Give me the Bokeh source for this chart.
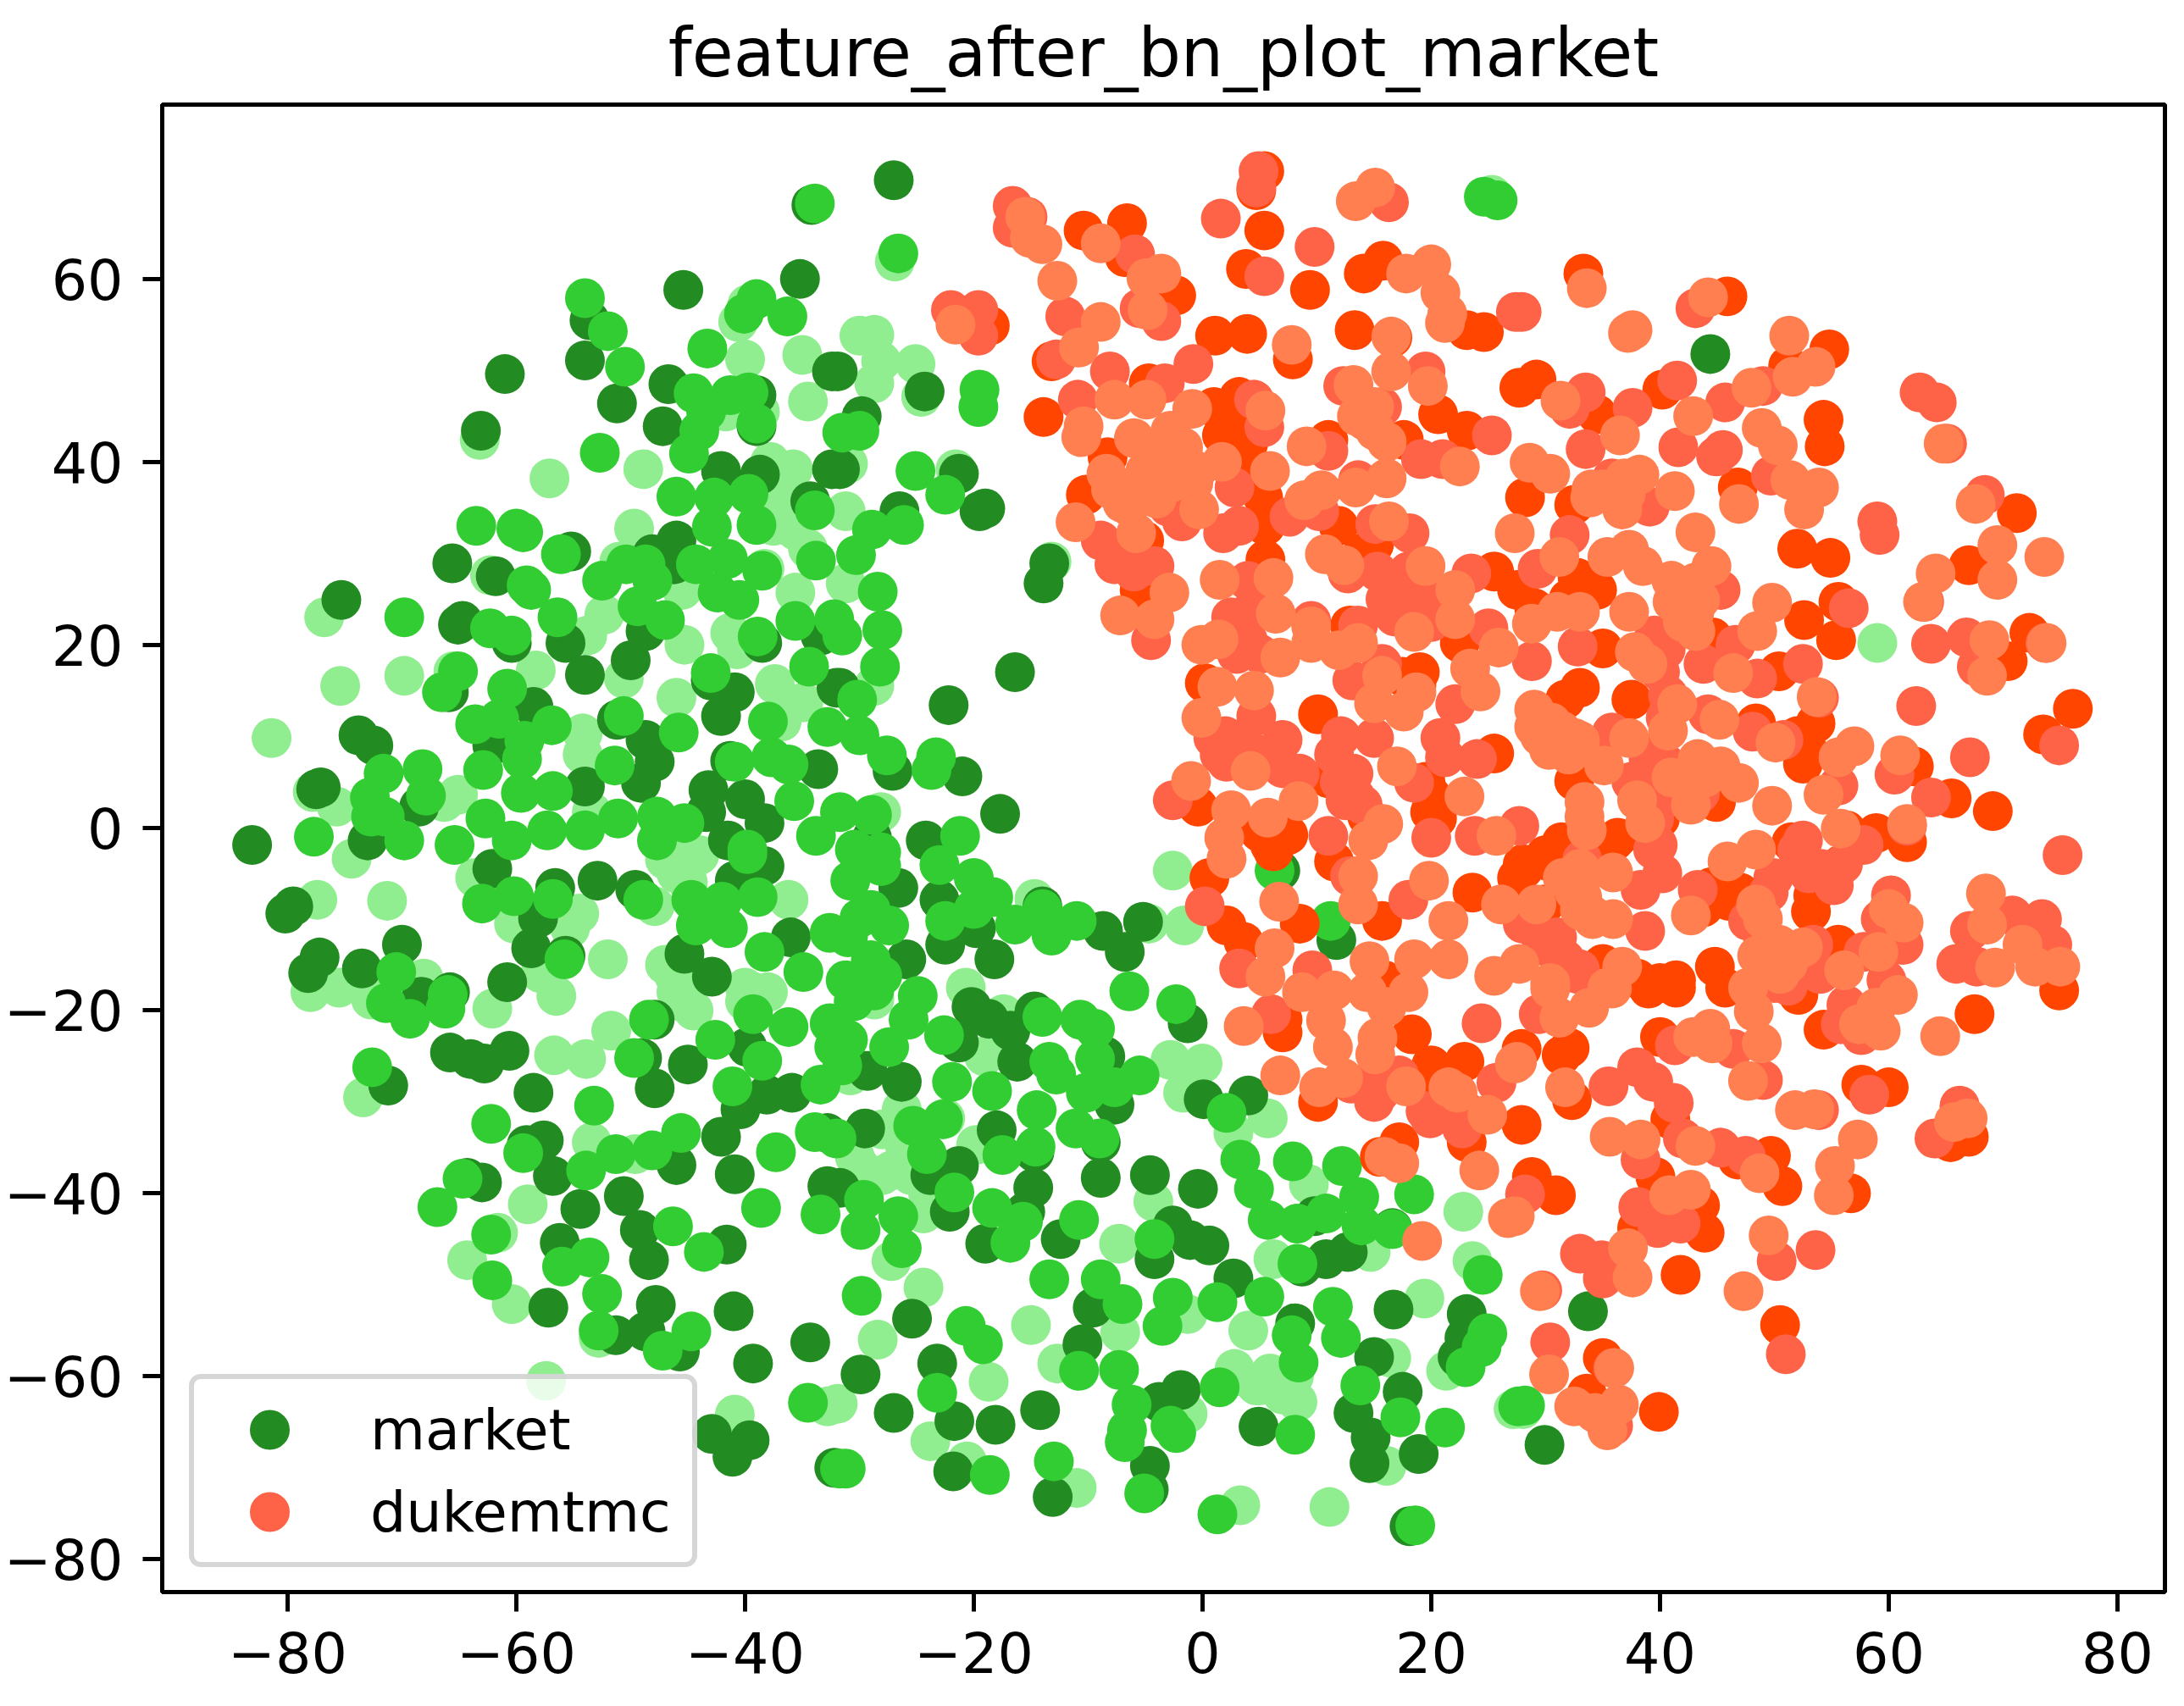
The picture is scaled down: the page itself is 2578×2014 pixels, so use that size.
from bokeh.plotting import figure
from bokeh.models import Legend, LegendItem, FixedTicker, ColumnDataSource
from bokeh.embed import file_html
from bokeh.resources import INLINE

TITLE = "feature_after_bn_plot_market"
LABELS = ["market", "dukemtmc"]
X_TICKS = [-80, -60, -40, -20, 0, 20, 40, 60, 80]
Y_TICKS = [-80, -60, -40, -20, 0, 20, 40, 60]

lightgreen_pts = [
(-40,51.2),(-40.6,55.3),(-39.8,57.2),(-35,51.7),(-34.5,46.6),(-38.7,45.5),(-41.7,45.5),(-63.2,42.4),(-57.1,38.2),(-48.9,39.2),
(-37.8,40),(-35.8,39.2),(-36.8,35.6),(-35.6,32.5),(-49.7,32.7),(-62.3,27.6),(-51,29.1),(-38.3,28.3),(-35.6,25.7),(-45.5,26),
(-52.3,23.3),(-53.8,21),(-41.3,21.3),(-40.7,19.5),(-45.3,20),(-50.6,16.3),(-58.3,17.2),(-69.8,16.6),(-75.4,15.5),(-65.5,17.1),
(-46,14.2),(-37.4,15.7),(-34.9,13.7),(-36.8,11.6),(-81.4,9.8),(-54.2,10.3),(-54.2,8),(-77.8,3.9),(-75.7,2.3),(-65.1,3.6),
(-66.3,2.8),(-53.4,1.7),(-76.8,23),(-74.4,-3.4),(-77.4,-7.9),(-71.3,-8),(-63.6,-5.5),(-54.5,-9.4),(-55.3,-11),(-60.2,-10.5),
(-52,-14.4),(-57.9,-15.9),(-78,-18),(-75.5,-17.5),(-68.1,-16.5),(-72.7,-18.8),(-62.1,-19.8),(-56.5,-18.4),(-56.7,-24.9),(-53.9,-25.3),
(-51.7,-22.2),(-47.9,-8.6),(-36.2,-7.9),(-46.2,-16.2),(-45.1,-19.3),(-39.2,-18),(-73.4,-29.5),(-53.4,-34.4),(-49.6,-35.7),(-59,-41.2),
(-61.6,-44.3),(-64.3,-47.3),(-60.4,-52.1),(-52.8,-55.8),(-32.8,-63.3),(-57.4,-60.5),(-40.9,-64.2),(-45.1,-3.4),
(-26.9,61.9),(25.3,69.2),(-30,53.8),(-28.7,53.9),(-28.1,51),(-25.1,50.7),(-28.7,48.6),(-24.6,47.1),(-21.6,39.2),(-31,39.8),
(-31.2,34.6),(-13.2,29.1),(-31.2,26.7),(-28.7,15.5),(-28.1,1.7),(-14.7,-7.8),(-4.7,-10.5),(-1.6,-10.7),(-2.6,-4.7),(-28.7,-18.8),
(-20.7,-17.5),(-17.4,-20.4),(-19.1,-25),(-30.8,-27.1),(-2.8,-25.4),(0,-25.8),(-1.7,-29),(5.7,-31.8),(2.7,-33.4),(-26.3,-30.8),
(-22.5,-31.8),(-30.4,-36),(-27.2,-37.5),(-19.8,-34.7),(9.3,-39),(22.8,-42),(-24.4,-42.2),(-4.3,-40.9),(-7.3,-45.5),(6.2,-47.2),
(14.7,-46.4),(-27.2,-47.4),(-1.3,-53.2),(-24.4,-50.3),(-15,-54.4),(-28.4,-56),(-18.7,-60.6),(-31.9,-63),(-7.2,-55.2),(-12.7,-58.6),
(4,-55),(19.4,-51.5),(23.6,-47.4),(21.3,-59.4),(16.5,-58),(2.8,-59.2),(5.9,-59.7),(4.7,-61),(8.3,-62.8),(-1.3,-64.1),
(-23.8,-67.1),(-20.6,-69.3),(-11,-72.2),(3.3,-74.1),(11.1,-74.3),(16.1,-69.8),(27.2,-63.6),(28,-63.6),(59,20.2),
(-37,37),(-36,33),(-37.5,33),(-34.5,30.5),(-28,-33),(-26,-35),(-28,-38),(-25.5,-38),(-24,-40),(-30,-37),
(-47,-15),(-46,-18),(-44.5,-20),(-45,-17),(-47,-3.5),(-44,-3),(-46,-5),(-45,-6),(-40,-17.5),(-38,-18),(-40,-19),
(3,-60),(5,-61),(8,-60),(7,-62),
]

forestgreen_pts = [
(-34.2,68.1),(-45.4,58.8),(-35.2,60),(-53.6,55.5),(-54,51.1),(-61,49.6),(-51.2,46.4),(-32.4,49.9),(-46.7,48.5),(-47.2,43.9),
(-39,47.3),(-39,43.9),(-63.1,43.4),(-42.1,39),(-38.7,38.6),(-32.4,39.2),(-34.3,35.7),(-55.2,30.2),(-46,31.4),(-48.1,29.9),
(-65.6,28.9),(-61.8,27.5),(-46.2,28.8),(-55.7,20.2),(-65.1,22.2),(-64.7,22.6),(-60.4,20.2),(-75.3,24.9),(-38.5,20.2),(-33.4,21),
(-48.7,21.5),(-50,18.3),(-54,16.7),(-65.9,14.8),(-58.5,13.2),(-43,16.1),(-40.9,14.8),(-42.1,12.2),(-32,15.3),(-73.8,10.1),
(-72.5,9),(-62.1,9),(-51.2,11.8),(-48.7,9.6),(-47.9,7.2),(-49.1,4.9),(-41.3,7.3),(-33.6,6.4),(-43.2,4.1),(-40,3.1),
(-38.3,.5),(-43.4,1.7),(-77.1,4.4),(-77.5,4.2),(-68.5,2.3),(-54,4.5),(-83.1,-1.9),(-73,-1.4),(-41.5,-1.4),
(-80.2,-9.4),(-79.5,-8.6),(-62.1,-4.5),(-58.1,-9.9),(-56.6,-6.6),(-52.9,-5.8),(-58.7,-13.2),(-55.7,-14),(-70,-12.8),(-77.2,-14.2),
(-78.2,-15.9),(-73.5,-15.4),(-68.3,-18.5),(-65.8,-18),(-60.8,-16.9),(-65.8,-24.6),(-64,-25.3),(-62.8,-25.8),(-60.6,-24.4),(-49,-25.2),
(-47.9,-21),(-47.9,-28.5),(-45,-25.9),(-71.2,-28.2),(-58.5,-29),(-57.6,-34.2),(-59.1,-34.7),(-46,-36.9),(-42.1,-33.8),(-56.8,-38.1),
(-40.9,-37.9),(-63,-38.8),(-64.3,-38.3),(-54.4,-41.7),(-50.6,-40.3),(-49.2,-44),(-56.2,-45.4),(-48.4,-47.3),(-41.6,-45.6),(-57.2,-52.5),
(-47.8,-52.2),(-41,-52.9),(-51.3,-55.5),(-48.7,-55.1),(-45.7,-57.3),(-34.3,-56.3),(-39.3,-58.6),(-42.9,-66.3),(-39.6,-67),(-41.1,-68.8),
(-32.2,-70),(-49.6,-6.8),(-45.3,-13.8),(-36,-12),(-42.9,-16.3),(-39.8,-24),(-40.4,-30.8),(-38.1,-29.2),(-35.9,-29),(-32.8,-33.4),
(-32.8,-39.2),(-38.3,-4.2),(-40.9,-5.8),
(-27,70.8),(-31.9,49.9),(-24.3,47.7),(-29.8,45),(-21.3,38.7),(-19,34.9),(-19.5,34.6),(-26.5,34.6),(-31.7,39.2),(-13.4,28.9),
(-13.9,26.7),(-16.4,17),(-22.2,13.4),(-31.7,15.3),(-27.1,6.2),(-21,5.6),(-17.7,1.5),(-24.2,-1.4),(-28.9,-1.1),
(-26.6,-6.6),(-23,-7.9),(-19.8,-11),(-22.5,-12.8),(-18.2,-14.4),(-14,-8.6),(-8.7,-11.3),(-6.8,-13.6),(-5.2,-10.3),(-25.9,-14.4),
(-20.2,-19.6),(-18.7,-20.9),(-21.3,-23.5),(-16.8,-22.2),(-14.7,-20.1),(-1.3,-21.4),(-16.2,-25.6),(-8.5,-25),(-7.7,-30.3),(-29.3,-26.6),
(-26.3,-27.8),(.1,-29.7),(4,-29.3),(-29.5,-32.9),(-21.3,-37),(-23.8,-38),(-18,-33.1),(-14.7,-35.5),(-8.9,-34.4),(-8.9,-38.3),
(-4.6,-38),(-.4,-39.5),(-14.8,-39.4),(-22.1,-42),(-31.7,-39.4),(-15.5,-42),(-19,-45.5),(-12.4,-45),(-2.6,-43.5),(-1.1,-45.1),
(.6,-45.7),(-4.2,-47.2),(9.8,-42.5),(16.6,-43.8),(12.7,-46.4),(10.8,-47.2),(8.7,-48),(2.7,-49.3),(-9.6,-52.5),(-25.4,-53.7),
(-23.2,-58.6),(-29.9,-59.8),(-27,-64),(-21.7,-64.9),(-18.1,-65.3),(-14.2,-63.7),(-10.5,-56.5),(8.1,-54.2),(16.7,-52.7),(23.1,-53.2),
(22.9,-55.8),(22.3,-57.9),(15,-57.9),(17.5,-61.7),(13.2,-64),(14.7,-66.7),(18.9,-68.5),(14.6,-69.5),(4.9,-65.5),(-1.9,-61.5),
(-3.8,-62.8),(-4.6,-69.8),(-4.7,-72.4),(-21.8,-70.4),(-13.1,-73.2),(18.1,-76.4),(11.7,-12.3),(6.8,-4.7),(44.4,51.8),(33.7,-52.9),
(29.9,-67.5),
]

limegreen_pts = [
(-33.9,68.25),(-54,57.9),(-52,54.3),(-50.5,50.4),(-43.3,52.4),(-39,57.8),(-40.1,56.2),(-36.3,55.9),(-44.5,47.5),(-43.4,45.5),
(-44,43.4),(-44.9,40.9),(-41.3,47.3),(-39.7,47.6),(-39,44.2),(-52.7,41),(-46,36.2),(-42.7,36.1),(-39.7,36.5),(-33.9,34.7),
(-63.5,33),(-60,32.7),(-59.4,32.3),(-56.1,29.9),(-42.9,32.9),(-39,33.1),(-59.1,26.5),(-58.7,26),(-52.5,27),(-50.4,28.8),
(-48.7,28.8),(-48.1,27),(-44.3,28.8),(-41.5,29.4),(-38.5,28.1),(-33.8,29.2),(-42.4,25.7),(-40.5,24.9),(-49.4,24.2),(-47,22.7),
(-56.4,23),(-62.3,21.8),(-60.4,21),(-69.8,23),(-38.9,20.9),(-35.6,22.6),(-32.2,22.8),(-34.4,17.6),(-65.1,17.1),(-66.5,14.8),
(-60.8,15.2),(-43,16.9),(-38,11.6),(-32.8,11),(-63.6,11.3),(-61.5,11.9),(-56.9,11.2),(-59.3,9.5),(-50.6,12.2),(-45.8,10.4),
(-51.4,6.8),(-40.9,7.2),(-37.7,7.7),(-36.2,6.9),(-35.7,2.9),(-71.6,5.9),(-68.2,6.4),(-72.8,3.3),(-67.9,3.5),(-72.7,1.2),
(-71.5,1.2),(-62.9,6.3),(-59.5,7.5),(-59.6,3.8),(-56.8,4),(-62.7,1),(-60.4,-1.4),(-57.3,-.3),(-54,-.3),(-51.1,1),
(-47.7,1.2),(-45.3,.5),(-77.7,-1),(-69.8,-1.4),(-65.4,-1.9),(-39.8,-2.4),(-33.8,-.9),(-47.7,-1.4),
(-63,-8.3),(-60.2,-7.5),(-56.8,-7.8),(-55.8,-14.4),(-70.5,-15.8),(-71.4,-19.2),(-69.3,-20.9),(-66,-18.3),(-66.2,-19.8),(-49.7,-25.2),
(-48.4,-21),(-72.6,-26.2),(-53.2,-30.4),(-62.2,-32.4),(-59.4,-35.6),(-51.3,-35.7),(-48.1,-35.3),(-45.6,-33.4),(-53.9,-37.5),(-37.3,-35.5),
(-64.7,-38.4),(-66.9,-41.5),(-46.3,-43.6),(-38.6,-41.6),(-62.2,-44.5),(-62.1,-49.5),(-53.6,-47),(-56,-48),(-43.6,-46.4),(-52.5,-51),
(-52.8,-55),(-44.7,-55.1),(-47.2,-57.2),(-34.5,-62.9),(-31.7,-70.1),(-48.9,-7.9),(-44.7,-7.9),(-42,-8.1),(-44.3,-10.7),(-41.5,-11),
(-38.9,-7.6),(-38.3,-13.6),(-34.9,-15.8),(-39.3,-20.4),(-36.2,-21.8),(-42.6,-23.2),(-38.5,-25.5),(-41.1,-28.3),(-33.4,-28.1),(-33.9,-33.3),
(-33.4,-42.3),(-32.6,-11.5),(-32.6,-21.4),(-32.2,-24),(-39.8,-2.9),
(-26.6,62.8),(24.6,69),(25.8,68.6),(-19.5,47.9),(-19.6,46),(-30,43.4),(-31.5,43.2),(-25.1,39),(-22.5,36.4),(-26.1,33.1),
(-28.9,32.6),(-30.3,29.8),(-28.4,25.8),(-28,21.6),(-31.5,21),(-28.2,17.6),(-30.2,14),(-30,10.1),(-27.6,7.9),(-23.3,7.7),
(-23.7,6.3),(-28.9,1.4),(-31.7,1.7),(-21.2,-.9),(-28.1,-2.7),(-30.4,-2.4),
(-28.1,-4.2),(-30.8,-5.8),(-23,-4.1),(-20,-5.5),(-18.3,-7.6),(-22.5,-10.2),(-20,-8.9),(-16.4,-10.6),(-14,-8.9),(-13.2,-11.8),
(-11,-10.2),(-30,-9.9),(-27.4,-10.7),(-28,-16.2),(-28.7,-17.8),(-31.2,-16.7),(-24.9,-18.4),(-25.7,-21),(-22.6,-22.7),(-14,-20.7),
(-10.7,-21),(-9.4,-22),(-27.4,-24),(-31,-23.2),(-6.4,-17.9),(-2.3,-19.3),(-13.4,-25.6),(-9.4,-25.3),(-12.8,-27),(-5.5,-27.1),
(-7.7,-28.4),(-10.2,-29),(-21.9,-27.8),(-18.4,-28.8),(2.1,-31.2),(-25.3,-32.6),(-22.7,-31.9),(-24.1,-35.7),(-14.5,-30.9),(-17.5,-35.8),
(-14.6,-34.9),(-11.1,-32.9),(-9,-34),(3.3,-36.3),(7.9,-36.5),(12.2,-37),(4.5,-39.5),(13.7,-40.4),(18.5,-40.1),(-21.7,-39.9),
(-29.6,-40.7),(-26.6,-42.5),(-29.9,-44),(-26.3,-46),(-18.4,-41.6),(-15.7,-43.1),(-16.8,-45.4),(-10.8,-42.9),(-4.2,-45),(5.7,-42.9),
(8.3,-43.3),(10.8,-42.2),(13.9,-43.5),(16.6,-43.9),(8.3,-47.7),(-13.4,-49.4),(-8.9,-49.4),(5.4,-51.3),(1.3,-51.9),(-2.6,-51.4),
(-7,-52.1),(-3.5,-54.5),(-29.8,-51.2),(-20.7,-54.5),(-19.2,-56.5),(-23.2,-61.8),(-10.8,-59.4),(-7.3,-59.3),(7.8,-55.5),(8.4,-58.5),
(11.4,-52.4),(12.1,-55.8),(24.5,-48.9),(24.9,-55.3),(24.4,-56.8),(23,-59),(13.8,-61),(17.3,-64.5),(21.2,-65.6),(1.5,-61.2),
(8.1,-66.4),(-6.2,-63.1),(-6.6,-65.9),(-6.8,-67.2),(-2.8,-65.4),(-2.3,-66.2),(-5.1,-72.8),(-18.6,-70.8),(-13,-69.3),(-31.2,-70.1),
(1.3,-75.1),(18.6,-76.3),(27.6,-63.3),(11.2,-10.2),(6.3,-4.7),(28.2,-63.2),
(-29,-9),(-31,-12),(-29,-14.5),(-30.5,-19),(-31.5,-26),(-32,-34),
]

orangered_pts = [
(5.4,71.8),(4.7,69.7),(5.4,65.3),(3.8,61.1),(9.4,58.8),(14.1,60.6),(15.8,62),(23.1,54.4),(24.6,54.2),(-10.4,65.3),
(-6.6,66.1),(-6.8,62.4),(-2.3,58.2),(-18.6,54.9),(-13.2,51),(1.1,53.8),(3.9,54),(7.9,51.2),(13.3,54.4),(16.6,53.6),
(-4.7,48.6),(-13.9,44.9),(3.2,47.1),(2.3,45),(1.7,42.9),(-8.3,40.5),(-10.2,36.4),(5.3,36.1),(-5.1,31.4),(5.5,29.3),
(-5.5,26),(11,42.4),(17.6,42.4),(20.6,45.2),(23.1,43.4),(11.9,33),(25.5,28),(12.9,22.1),(22.5,20.2),(.2,15.8),
(18.7,15.6),(10.1,12.4),(25.5,8.1),(11,5.4),(19.9,1.7),(-.4,2.3),(6.6,-.3),(14.4,1.2),(5.9,-1.9),
(6.2,-2.6),(.6,-5.5),(8.5,-10.5),(2.1,-10.7),(3.6,-12.5),(7,-22.4),(10.1,-30),(11.5,-3.7),(15.7,-10.2),(23.6,-7.1),
(15.9,-16.7),(18.3,-22.6),(20.2,-27.7),(22.9,-25.6),(23.1,-34.4),(17.2,-34.4),(15.5,-36),
(33.3,60.6),(45.9,58.1),(54.8,52.3),(51.2,50.5),(29.2,49),(27.7,48.1),(34.5,45.2),(40.2,47.9),(54.3,44.6),(54.4,41.7),
(46.8,37.2),(28.2,36.1),(32.5,35.3),(32.8,27.3),(33.2,26),(52,30.5),(54.9,29.5),(71.2,34.4),(67,28.7),(55.6,24.7),
(52.6,22.7),(55.4,20.5),(72.3,21.3),(70.4,18.2),(35,19.6),(44.6,20.8),(50.4,17.1),(33,15.3),(37.5,14),(31.7,14),
(76.1,13),(73.5,10.2),(53.6,11.4),(53,8.3),(62.2,6.7),(65.5,3.2),(69.1,1.8),(48.4,11.4),(32.5,5.1),(44.9,2.8),
(40,1),(31.4,-1.6),(36.3,-1.1),(51.5,-1.6),(56.3,-.3),(58.9,-.6),(61.6,-1.6),(28.1,-4.5),(30.3,-3.7),(47,-7.1),
(55.9,-4),(53.4,-7.4),(53.2,-9.2),(29.9,-8.4),(43.8,-8.7),(55.6,-12.8),(44.8,-15.2),(41.4,-16.7),(38.9,-17.3),(45.7,-17.5),
(35,-14.9),(74.9,-17.8),(67.5,-20.4),(54.3,-22.1),(40,-22.9),(32.1,-24.1),(31.4,-24.9),(27.9,-24.2),(32.3,-29.8),(27.9,-32.5),
(57.6,-28.1),(60,-28.4),(56.7,-40),(66.2,-30.5),(65.4,-34.4),(67,-33.8),(39.6,-38.2),(40.9,-31.9),(49.7,-35.9),(46.8,-36.3),
(50.7,-39.2),(28.8,-38.2),(30.9,-40.2),(43.5,-41.3),(43.9,-44.3),(38,-43.8),(41.8,-48.9),(50.5,-54.4),(35,-58),(33.6,-61.9),
(39.9,-63.9),(39,-17.6),(41.4,-17.5),(52.1,-18.3),
(1,46),(3,43.5),(4,42),(2.5,41),(3.5,39),(27.5,26),(29,24),(32,25),(34.5,26),(52,10),(52.5,7),(46,-8),(44.5,-6.5),
(28,-4),(27.5,-5.5),(30,-3),(31,-3),(35,-2.5),(36,-1.5),(38,-16.5),(40,-17),(5.5,33),(5.5,34.5),(15,31),(14,30),
(17.5,16.5),(19,17),(19.5,5),(20,3.5),(20.5,1),(5,-.5),(7.5,-.8),(7,-21),(20,-26),
]

tomato_pts = [
(4.9,71.8),(4.7,70),(1.6,66.6),(9.8,63.5),(5.4,60.3),(16.3,68.4),(27.4,56.4),(-16.6,68),(-15.3,66.8),(-16.6,65.6),
(-5.9,62.7),(-5.5,56.8),(-3.6,55.4),(-22,56.6),(-19.6,56.6),(-19.6,53.8),(-12,55.9),(-12.8,51.2),(19.5,49.9),(12.3,48.3),
(-8.1,49.9),(-.8,50.7),(-3.3,48.6),(-10.9,46.8),(4.5,46.8),(5.4,43.8),(2.8,37.2),(-3,35.1),(-1.8,33.5),(3.2,33),
(1.8,32.2),(-8.9,31.4),(-7.7,28.8),(-4.2,28.6),(3.97,27),(-4.5,20.5),(11,41.2),(15.7,46),(25.3,42.9),(19.1,40.3),
(21,40.3),(13.6,38),(7.6,34),(10.2,34.6),(15.1,33.2),(18.1,32.2),(12.7,27.8),(15.3,28),(17.2,26.2),(23.5,27.8),
(16.8,23.1),(18.7,24.7),(3.97,23.4),(9.5,22.6),(13.6,22.1),(3.97,20.5),(25,21.8),(13.1,16.1),(15.7,17.9),(22.1,13.5),
(4.7,12.2),(15,9.8),(12.1,10),(20.8,9.8),(24,7.5),(21.2,7.7),(7,9.6),(.95,9.8),(2.1,7.2),(11.5,8),
(8.5,5.9),(13.2,5.9),(18.5,4.9),(13.4,3.3),(-2.6,3),(11,-.9),(20,-1.1),(23.8,-.9),
(.2,-8.6),(3.2,-15.4),(9.6,-15.6),(6,-20.4),(14.4,-28.4),(12.9,-5.3),(18,-7.9),(24.4,-21.4),(17.2,-27.1),(25.7,-27.9),
(19.9,-31.8),(22.7,-32.9),
(27.9,56.4),(43.1,56.8),(33.5,47.6),(32.1,45.8),(37.6,45.9),(41.5,48.9),(49,48.3),(45.7,46.5),(62.7,47.6),(64.2,46.5),
(65.1,42),(33.5,41.4),(41.6,41.6),(45.5,41.3),(44.9,40.6),(49.7,38.5),(35.8,38.2),(39.1,35.1),(32.1,32),(29.3,28.3),
(45.3,26),(59,33.5),(59.2,32),(68.4,36.4),(63.1,24.7),(56.5,24),(63.7,20.1),(66.8,20.8),(73.7,20.2),(67.7,17.6),
(32.8,19.8),(28.8,18.2),(40.5,19.5),(43.8,17.9),(52.5,17.9),(48.5,16.3),(46.6,20),(62.4,13.3),(74.9,9),(53.9,14.2),
(67.1,7.7),(60.5,5.8),(63.7,3.3),(55.6,4.6),(40.7,14.5),(44.2,12.4),(48.1,10.5),(50.8,9.6),(35.8,10.4),(39.8,6.4),
(39.8,3.8),(43.5,3.8),(27.7,.2),(39.8,-1.9),(52.5,-1.4),(57.8,-1.9),(61.6,.2),(75.2,-3),(33.2,-3.5),(39.4,-2.4),
(40.2,-5),(38.3,-6.8),(43.3,-6.8),(49.9,-5.5),(49.5,-7.1),(54.1,-4.5),(55.2,-6.3),(60.2,-7.4),(70.8,-9.6),(73.4,-10),
(59.3,-10),(61.1,-12.8),(67.1,-11.3),(65.9,-14.9),(74.3,-12.8),(67.7,-15.2),(38.7,-11.3),(47.7,-10.2),(53.4,-12.8),(57.8,-13.6),
(61.3,-12.8),(59.8,-16.7),(29.5,-11.8),(31.7,-14.4),(32.8,-16),(55.8,-21.5),(57.6,-22.7),(56.3,-19.4),(41.3,-23.8),(46.4,-24.2),
(49,-27.6),(29.4,-20.4),(35.5,-28.3),(38,-26.2),(39.4,-27.8),(41.2,-30.1),(58.3,-29.2),(53.9,-30.9),(66.2,-30.4),(64,-34),
(38.3,-36.3),(42,-34),(45.3,-35),(47.5,-35.9),(28.2,-40.1),(38.1,-41.5),(39.8,-43.8),(41.8,-43.3),(50.2,-47.4),(53.6,-46.2),
(33,-46.6),(34.9,-47.3),(35,-49.3),(29.7,-50.6),(51,-57.6),(30.4,-56.3),(35.9,-59.1),(35.9,-65.4),(51.2,-17.3),
(39.5,21),(40,17),(40.5,12),(39,8),(41,6),(38,5),(39.5,1),(2.5,23),(5,25),(3,19),(5,19),(16,25),(18,28),(19.5,25),(20,22.5),
(-7,30),(-6,28),(2,10),(1.5,8),(3.5,9),(5,8),(7,6.5),(6.5,8),(12,5),(12.5,3),(14,2.5),(13,-28),(15.5,-29),(15,-30),
(19.5,-31),(21.5,-31),(23,-31),(37.5,5),(39,7.5),(40.5,7),(38.5,4.5),(28,-10.5),(30,-13),(31,-12),(30.5,-13),(33,-15.5),
(49,-12),(49,-15),(50,-17),(53,-15),(54,-16),(52,-2.5),(53,-5),(56,-4),
]

coral_pts = [
(13.4,68.5),(15.1,70),(17.8,60.6),(20,61.6),(20.8,58.5),(21.4,56.2),(21.2,55.2),(-15.5,66.8),(-15.1,64.5),(-14,63.8),
(-12.7,59.8),(-8.9,63.9),(-4.9,60.1),(-3.6,60.6),(-4.8,56.6),(-21.6,55),(-8.9,55.3),(-10.8,52.5),(7.8,52.8),(16.5,53.7),
(16.5,49.9),(19.7,48.3),(13.2,48.4),(-7.7,46.8),(-4.9,46.8),(-10.4,43.9),(-10.6,42.7),(-.9,45.8),(5.5,45.6),(-6,42.6),
(-2.8,43.4),(-1.7,41.6),(1.7,40),(-8.4,38.7),(-2.8,37.7),(-.8,37.7),(-6.2,37.2),(5.9,39),(-7.4,36.6),(-6.4,35.1),
(-.3,34.8),(-11.1,33.4),(-5.8,32.2),(1.5,27.1),(6.2,27.3),(-2.9,25.7),(-7.2,23.2),(-4.2,22.8),(9.1,41.7),(14.2,44.5),
(15.1,43.4),(16.1,42.2),(22.5,39.5),(16.1,38.2),(13.4,37.2),(10.4,36.9),(8.9,35.8),(16.3,33.5),(10.7,29.9),(12.4,28.7),
(19.5,28.6),(22.1,26),(22.1,22.8),(18.5,21.4),(6.4,23.4),(9.5,22),(13.6,20.2),(11.9,19.4),(9.5,20.2),(-.1,20),
(1.4,20.6),(6.8,18.6),(25.9,19.7),(1.3,15.4),(4.5,15),(23.4,17.4),(24.3,14.9),(15.7,16.6),(18.7,14.8),(15,13.6),
(17.6,12.7),(-.1,12),(17,6.7),(4.2,6.2),(22.9,3.4),(-1,5.1),(2.5,1.9),(8.4,2.9),(5.7,1.1),(15.8,.4),
(14.5,-1.4),(25.7,-.9),(1.9,-1.1),
(2.1,-3.4),(6.7,-8.1),(6.3,-13.2),(5.5,-16.3),(8.7,-18),(11.5,-17.8),(3.6,-21.7),(10.8,-21.1),(11.4,-24),(6.8,-27.1),
(12.3,-27.4),(10.2,-28.4),(13.6,-5.3),(13.6,-8.4),(19.8,-5.8),(21.5,-10.2),(26.1,-8.4),(14.6,-14.6),(18.5,-14.4),(21.5,-14.4),
(25.5,-16.2),(14.4,-18),(18,-18),(16.1,-19.6),(15.3,-23),(15.1,-24.8),(17.8,-28.3),(27.3,-25.8),(21.5,-28.4),(22.3,-29),
(24.9,-31.4),(15.9,-36),(17.2,-36.7),(24.2,-37.5),(26.7,-42.7),(19.2,-45.2),
(33.6,59),(44.2,58),(37.2,54.1),(37.6,54.4),(51.3,53.8),(53.6,50.4),(51.6,49.3),(31.3,46.7),(48,48.1),(42.9,45),
(64.8,42),(36.5,42.9),(48.9,43.7),(50.3,41.8),(51.4,38),(53.9,37.2),(52.6,34.8),(46.9,35.4),(28.6,39.9),(30.4,38.7),
(36.9,38.2),(38.2,38.6),(33.9,36.1),(41.3,36.8),(36.7,34.8),(43.1,32.3),(27.3,32.2),(31.2,29.6),(35.4,29.6),(37.3,30.4),
(38.5,28.6),(44.5,28.6),(43.1,26.8),(67.6,35.4),(69.5,30.9),(73.6,29.6),(64.1,27.8),(69.5,27.1),(63,24.7),(49.8,24.6),
(48.5,21.5),(68.8,20.5),(73.8,20.2),(68.6,16.6),(37.3,23.6),(31,23.6),(33,23.6),(28.8,22.3),(37.8,19.2),(38.9,17.9),
(41.1,24.7),(43.5,24.9),(43.1,21.5),(46.4,16.9),(29,12.9),(53.7,14.3),(57,8.9),(55.6,7.7),(61,7.9),(54.3,3.6),
(41.5,13.5),(45.2,11.8),(50.1,9.3),(40.7,10.6),(37.3,9.8),(30.3,8.5),(31.4,10.6),(32.5,9.8),(35.1,6.8),(43.3,7.5),
(45.3,6.7),(46.9,4.9),(42.7,2.5),(49.8,2.4),(38,3),(33.4,2.8),(33.4,1.2),(33.6,-.3),(38.7,.5),(55.8,-.1),
(61.6,.4),(48.4,-2.4),(45.9,-3.7),(35.9,-4.9),(33,-6.1),(33.2,-7.6),(68.5,-7.2),(68.6,-10.6),(60,-8.9),(61.3,-10.4),
(71.7,-12.8),(75,-15.2),(69.3,-15.3),(72.8,-15.2),(29.2,-8.4),(35.9,-10),(34.1,-10),(42.7,-9.6),(48.4,-8.4),(50.4,-12.8),
(52.5,-13.1),(51.2,-14.9),(59.1,-13.6),(56.1,-15.6),(60.8,-18.3),(47.7,-17.5),(36.7,-15.2),(35.4,-17.5),(30.4,-17),(27.7,-14.9),
(64.5,-22.8),(57.4,-21.5),(59.3,-22.2),(58.9,-19.7),(44.4,-22),(42.9,-22.9),(44.6,-23.6),(48.2,-20.1),(48.9,-23.6),(47.7,-27.7),
(31.2,-20.8),(33.8,-19.7),(27.5,-25.6),(31.7,-28.4),(51.8,-30.9),(53.5,-30.8),(57.3,-34.1),(55.3,-37),(55.2,-40.2),(65.7,-32.2),
(66.9,-31.8),(35.6,-33.8),(38.3,-34.1),(43.1,-34.8),(48.7,-37.8),(27.3,-42.5),(40.8,-40.2),(42.7,-39.6),(49.5,-44.6),(37.2,-46),
(37.6,-49.2),(29.5,-50.7),(47.3,-50.7),(30.3,-59.8),(36,-59.1),(32.5,-63.3),(34.3,-64),(36.4,-63.1),(35.4,-65.9),(30.4,-17.6),
(35.8,-17.6),
(-4.5,41),(-1.5,40),(-5,39),(-.5,39),(-4,36),(-8,37),(-7,35.5),(13.5,45),(15,46),
(41.5,26),(42.5,25),(43,23.5),(42,22.5),(41,27),(35,37),(37,36.5),(34,37),(31.5,-5.5),(33,-4.5),(32.5,-7),(33,-9),(34,-9.5),
(42.5,5.5),(44,5.5),(41,5.5),(49,-10),(49.5,-13),(50.5,-16),(48.5,-14),(29.5,10),(32,8),(33,9.5),(29,11),(30.5,11.5),
]

SERIES = [
    (lightgreen_pts, "#90EE90"),
    (forestgreen_pts, "#228B22"),
    (limegreen_pts, "#32CD32"),
    (orangered_pts, "#FF4500"),
    (tomato_pts, "#FF6347"),
    (coral_pts, "#FF7F50"),
]

p = figure(width=2562, height=1998, output_backend="svg", toolbar_location=None,
           x_range=(-90.96, 84.15), y_range=(-83.6, 79.07),
           min_border_left=191, min_border_right=7, min_border_top=122, min_border_bottom=119,
           background_fill_color="white", border_fill_color="white")

for pts, col in SERIES:
    src = ColumnDataSource(dict(x=[a for a, b in pts], y=[b for a, b in pts]))
    p.scatter("x", "y", source=src, size=47, marker="circle", fill_color=col, line_color=None)

# Legend-only glyphs: hidden on the plot, an outline brings the legend's marker up to the size of the points.
key_market = p.scatter(x=[forestgreen_pts[0][0]], y=[forestgreen_pts[0][1]], size=47, marker="circle",
                       fill_color="#228B22", line_color="#228B22", line_width=8.2, visible=False)
key_duke = p.scatter(x=[tomato_pts[0][0]], y=[tomato_pts[0][1]], size=47, marker="circle",
                     fill_color="#FF6347", line_color="#FF6347", line_width=8.2, visible=False)

p.title.text = TITLE
p.title.align = "center"
p.title.vertical_align = "middle"
p.title.text_font = "DejaVu Sans"
p.title.text_font_size = "79.5px"
p.title.text_font_style = "normal"
p.title.text_color = "black"
p.title.standoff = 28

p.grid.visible = False
p.outline_line_color = "black"
p.outline_line_width = 5

for ax, ticks in ((p.xaxis[0], X_TICKS), (p.yaxis[0], Y_TICKS)):
    ax.ticker = FixedTicker(ticks=ticks)
    ax.major_label_overrides = {t: str(t).replace("-", "\u2212") for t in ticks}
    ax.major_label_text_font = "DejaVu Sans"
    ax.major_label_text_font_size = "66.7px"
    ax.major_label_text_color = "black"
    ax.major_label_standoff = 23
    ax.major_tick_out = 23
    ax.major_tick_in = 0
    ax.major_tick_line_width = 5
    ax.major_tick_line_color = "black"
    ax.minor_tick_line_color = None
    ax.axis_line_width = 5
    ax.axis_line_color = "black"

legend = Legend(items=[LegendItem(label=LABELS[0], renderers=[key_market]),
                       LegendItem(label=LABELS[1], renderers=[key_duke])],
                location=(32, 29), orientation="vertical", margin=0,
                padding=11, spacing=0, glyph_width=156, glyph_height=97,
                label_standoff=41, label_text_font="DejaVu Sans",
                label_text_font_size="66.7px", label_text_color="black",
                label_width=369, label_height=67, background_fill_color="white", background_fill_alpha=0.8,
                border_line_color="#CCCCCC", border_line_alpha=0.8, border_line_width=6)
if "border_radius" in Legend.properties():
    legend.border_radius = 14
p.add_layout(legend)

open("out.html", "w").write(file_html(p, INLINE))
